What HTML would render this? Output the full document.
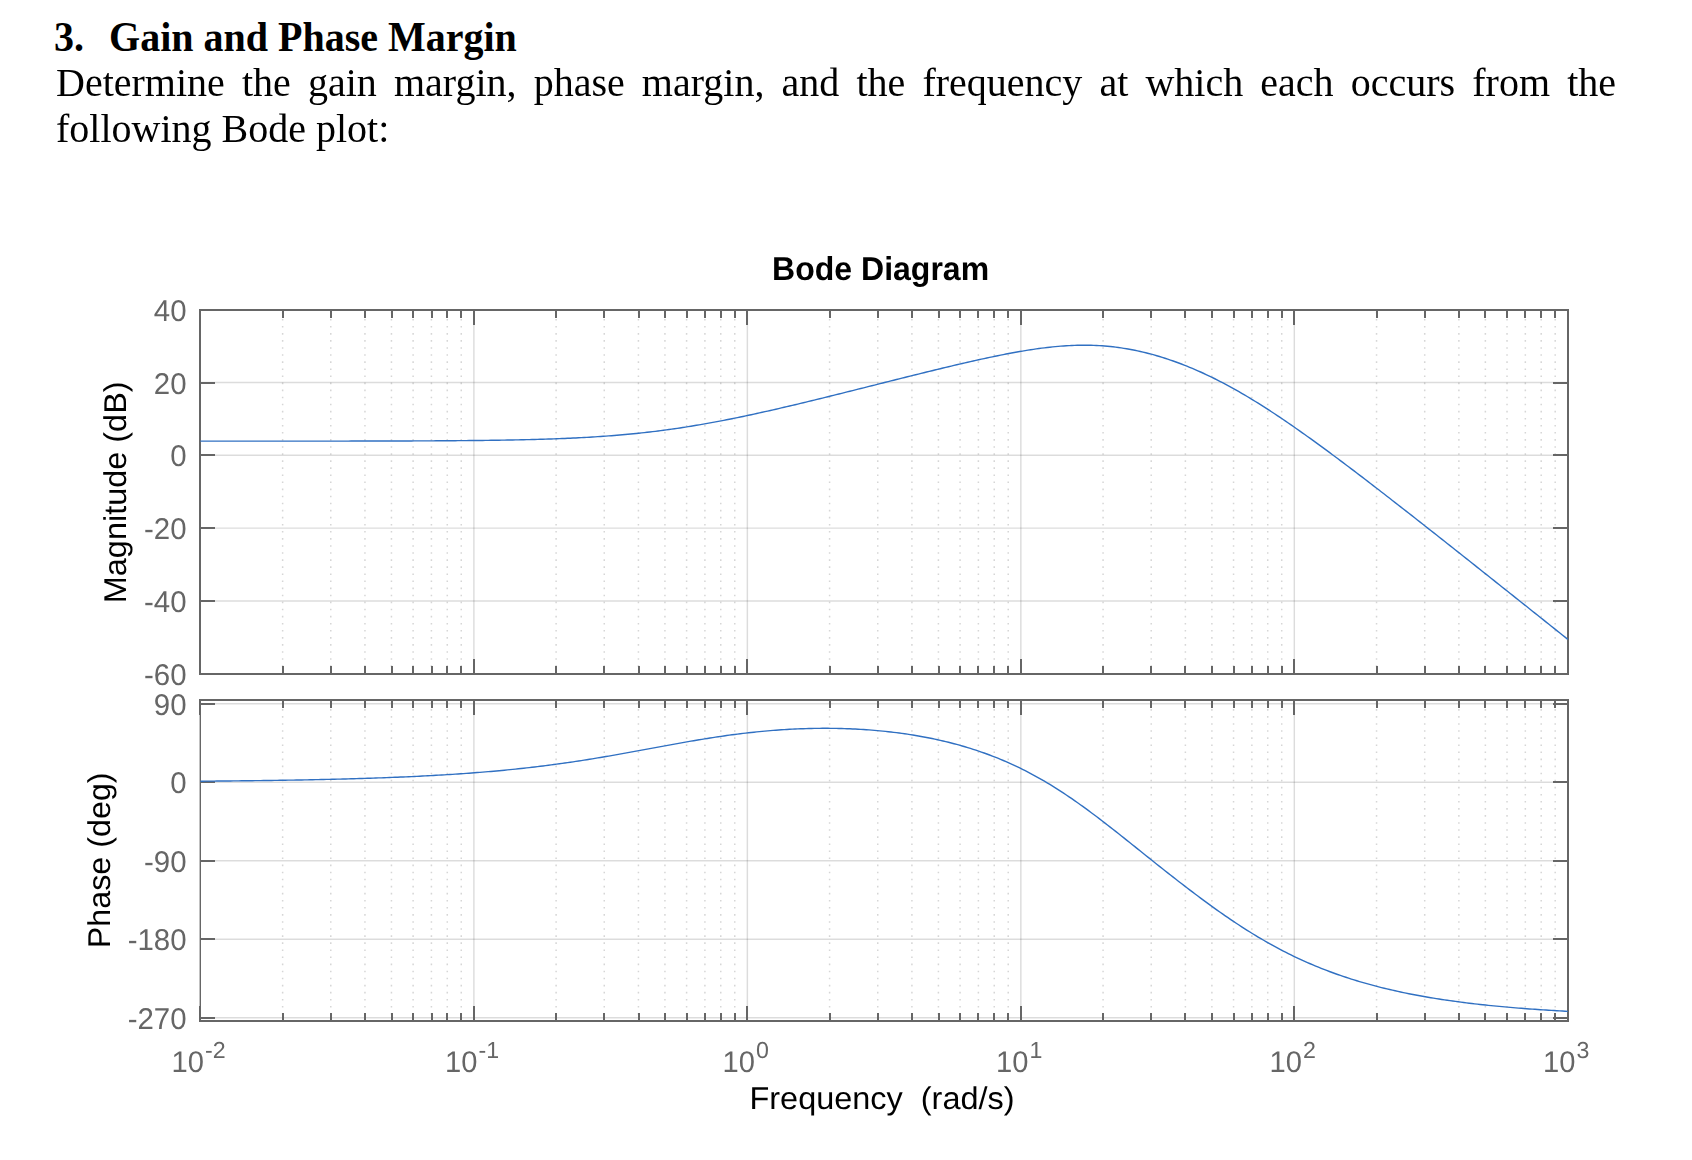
<!DOCTYPE html>
<html lang="en"><head><meta charset="utf-8"><title>Gain and Phase Margin</title>
<style>
html,body{margin:0;padding:0;background:#fff;}
body{width:1692px;height:1160px;position:relative;overflow:hidden;font-family:"Liberation Serif","Times New Roman",serif;color:#000;}
.h{position:absolute;left:54.2px;top:13.5px;font-size:41.8px;font-weight:bold;line-height:46px;white-space:pre;margin:0;transform:scaleX(0.957);transform-origin:0 0;}
.h .n{display:inline-block;width:57.5px;}
.p{position:absolute;left:56px;top:0;width:1591.19px;font-size:40.8px;line-height:46px;margin:0;transform:scaleX(0.9804);transform-origin:0 0;}
.p span{position:absolute;left:0;display:block;white-space:nowrap;}
.p .a{top:59.5px;width:100%;text-align:justify;text-align-last:justify;}
.p .b{top:105.5px;}
</style></head><body>
<h1 class="h"><span class="n">3.</span>Gain and Phase Margin</h1>
<p class="p"><span class="a">Determine the gain margin, phase margin, and the frequency at which each occurs from the </span><span class="b">following Bode plot:</span></p>
<svg width="1692" height="1160" viewBox="0 0 1692 1160" style="position:absolute;left:0;top:0">
<g font-family="'Liberation Sans', Arial, Helvetica, sans-serif" text-rendering="geometricPrecision">
<g stroke="#d6d6d6" stroke-width="1.5" stroke-dasharray="1.6 5.47" fill="none">
<path d="M282.63 311.83V673M330.78 311.83V673M364.95 311.83V673M391.45 311.83V673M413.11 311.83V673M431.42 311.83V673M447.28 311.83V673M461.27 311.83V673M556.11 311.83V673M604.26 311.83V673M638.43 311.83V673M664.93 311.83V673M686.59 311.83V673M704.9 311.83V673M720.76 311.83V673M734.75 311.83V673M829.59 311.83V673M877.74 311.83V673M911.91 311.83V673M938.41 311.83V673M960.07 311.83V673M978.38 311.83V673M994.24 311.83V673M1008.23 311.83V673M1103.07 311.83V673M1151.22 311.83V673M1185.39 311.83V673M1211.89 311.83V673M1233.55 311.83V673M1251.86 311.83V673M1267.72 311.83V673M1281.71 311.83V673M1376.55 311.83V673M1424.7 311.83V673M1458.87 311.83V673M1485.37 311.83V673M1507.03 311.83V673M1525.34 311.83V673M1541.2 311.83V673M1555.19 311.83V673"/>
</g>
<g stroke="#262626" stroke-opacity="0.16" stroke-width="1.45" fill="none">
<path d="M473.88 310V674M747.36 310V674M1020.84 310V674M1294.32 310V674"/>
<path d="M200 382.5H1568M200 455.3H1568M200 528.1H1568M200 600.9H1568"/>
</g>
<g stroke="#d6d6d6" stroke-width="1.5" stroke-dasharray="1.6 5.47" fill="none">
<path d="M282.63 701.98V1020M330.78 701.98V1020M364.95 701.98V1020M391.45 701.98V1020M413.11 701.98V1020M431.42 701.98V1020M447.28 701.98V1020M461.27 701.98V1020M556.11 701.98V1020M604.26 701.98V1020M638.43 701.98V1020M664.93 701.98V1020M686.59 701.98V1020M704.9 701.98V1020M720.76 701.98V1020M734.75 701.98V1020M829.59 701.98V1020M877.74 701.98V1020M911.91 701.98V1020M938.41 701.98V1020M960.07 701.98V1020M978.38 701.98V1020M994.24 701.98V1020M1008.23 701.98V1020M1103.07 701.98V1020M1151.22 701.98V1020M1185.39 701.98V1020M1211.89 701.98V1020M1233.55 701.98V1020M1251.86 701.98V1020M1267.72 701.98V1020M1281.71 701.98V1020M1376.55 701.98V1020M1424.7 701.98V1020M1458.87 701.98V1020M1485.37 701.98V1020M1507.03 701.98V1020M1525.34 701.98V1020M1541.2 701.98V1020M1555.19 701.98V1020"/>
</g>
<g stroke="#262626" stroke-opacity="0.16" stroke-width="1.45" fill="none">
<path d="M473.88 700V1021M747.36 700V1021M1020.84 700V1021M1294.32 700V1021"/>
<path d="M200 703.7H1568M200 782.2H1568M200 860.7H1568M200 939.2H1568M200 1017.69H1568"/>
</g>
<g stroke="#666666" stroke-width="2" fill="none">
<path d="M283 310v8M283 674v-8M331 310v8M331 674v-8M365 310v8M365 674v-8M392 310v8M392 674v-8M413 310v8M413 674v-8M432 310v8M432 674v-8M447 310v8M447 674v-8M461 310v8M461 674v-8M556 310v8M556 674v-8M604 310v8M604 674v-8M639 310v8M639 674v-8M665 310v8M665 674v-8M687 310v8M687 674v-8M705 310v8M705 674v-8M721 310v8M721 674v-8M735 310v8M735 674v-8M830 310v8M830 674v-8M878 310v8M878 674v-8M912 310v8M912 674v-8M939 310v8M939 674v-8M960 310v8M960 674v-8M978 310v8M978 674v-8M994 310v8M994 674v-8M1008 310v8M1008 674v-8M1103 310v8M1103 674v-8M1151 310v8M1151 674v-8M1185 310v8M1185 674v-8M1212 310v8M1212 674v-8M1234 310v8M1234 674v-8M1252 310v8M1252 674v-8M1268 310v8M1268 674v-8M1282 310v8M1282 674v-8M1377 310v8M1377 674v-8M1425 310v8M1425 674v-8M1459 310v8M1459 674v-8M1485 310v8M1485 674v-8M1507 310v8M1507 674v-8M1525 310v8M1525 674v-8M1541 310v8M1541 674v-8M1555 310v8M1555 674v-8M474 310v15M474 674v-15M747 310v15M747 674v-15M1021 310v15M1021 674v-15M1294 310v15M1294 674v-15M200 310v15M200 674v-15M200 383h15M1568 383h-15M200 455h15M1568 455h-15M200 528h15M1568 528h-15M200 601h15M1568 601h-15"/>
</g>
<rect x="200" y="310" width="1368" height="364" fill="none" stroke="#666666" stroke-width="2"/>
<g stroke="#666666" stroke-width="2" fill="none">
<path d="M283 700v8M283 1021v-8M331 700v8M331 1021v-8M365 700v8M365 1021v-8M392 700v8M392 1021v-8M413 700v8M413 1021v-8M432 700v8M432 1021v-8M447 700v8M447 1021v-8M461 700v8M461 1021v-8M556 700v8M556 1021v-8M604 700v8M604 1021v-8M639 700v8M639 1021v-8M665 700v8M665 1021v-8M687 700v8M687 1021v-8M705 700v8M705 1021v-8M721 700v8M721 1021v-8M735 700v8M735 1021v-8M830 700v8M830 1021v-8M878 700v8M878 1021v-8M912 700v8M912 1021v-8M939 700v8M939 1021v-8M960 700v8M960 1021v-8M978 700v8M978 1021v-8M994 700v8M994 1021v-8M1008 700v8M1008 1021v-8M1103 700v8M1103 1021v-8M1151 700v8M1151 1021v-8M1185 700v8M1185 1021v-8M1212 700v8M1212 1021v-8M1234 700v8M1234 1021v-8M1252 700v8M1252 1021v-8M1268 700v8M1268 1021v-8M1282 700v8M1282 1021v-8M1377 700v8M1377 1021v-8M1425 700v8M1425 1021v-8M1459 700v8M1459 1021v-8M1485 700v8M1485 1021v-8M1507 700v8M1507 1021v-8M1525 700v8M1525 1021v-8M1541 700v8M1541 1021v-8M1555 700v8M1555 1021v-8M474 700v15M474 1021v-15M747 700v15M747 1021v-15M1021 700v15M1021 1021v-15M1294 700v15M1294 1021v-15M200 700v15M200 1021v-15M200 704h15M1568 704h-15M200 782h15M1568 782h-15M200 861h15M1568 861h-15M200 939h15M1568 939h-15M200 1018h15M1568 1018h-15"/>
</g>
<path d="M199 700H1569M199 1021H1569M1568 700V1021" fill="none" stroke="#666666" stroke-width="2"/>
<path d="M200.3 700V1021" fill="none" stroke="#666666" stroke-width="1.4"/>
<g fill="none" stroke="#3070c2" stroke-width="1.4" stroke-linejoin="round">
<polyline points="200.4,441.15 203.14,441.15 205.88,441.15 208.62,441.15 211.36,441.15 214.1,441.15 216.84,441.15 219.58,441.15 222.32,441.15 225.06,441.15 227.8,441.15 230.54,441.15 233.28,441.14 236.02,441.14 238.76,441.14 241.5,441.14 244.24,441.14 246.98,441.14 249.73,441.14 252.47,441.14 255.21,441.14 257.95,441.14 260.69,441.14 263.43,441.14 266.17,441.14 268.91,441.14 271.65,441.13 274.39,441.13 277.13,441.13 279.87,441.13 282.61,441.13 285.35,441.13 288.09,441.13 290.83,441.13 293.57,441.13 296.31,441.12 299.05,441.12 301.79,441.12 304.53,441.12 307.27,441.12 310.01,441.12 312.75,441.11 315.49,441.11 318.23,441.11 320.97,441.11 323.71,441.1 326.45,441.1 329.19,441.1 331.93,441.1 334.67,441.09 337.41,441.09 340.15,441.09 342.89,441.09 345.63,441.08 348.38,441.08 351.12,441.07 353.86,441.07 356.6,441.07 359.34,441.06 362.08,441.06 364.82,441.05 367.56,441.05 370.3,441.04 373.04,441.04 375.78,441.03 378.52,441.03 381.26,441.02 384,441.02 386.74,441.01 389.48,441 392.22,440.99 394.96,440.99 397.7,440.98 400.44,440.97 403.18,440.96 405.92,440.95 408.66,440.94 411.4,440.93 414.14,440.92 416.88,440.91 419.62,440.9 422.36,440.89 425.1,440.88 427.84,440.86 430.58,440.85 433.32,440.83 436.06,440.82 438.8,440.8 441.54,440.79 444.28,440.77 447.03,440.75 449.77,440.73 452.51,440.71 455.25,440.69 457.99,440.67 460.73,440.65 463.47,440.62 466.21,440.6 468.95,440.57 471.69,440.55 474.43,440.52 477.17,440.49 479.91,440.46 482.65,440.43 485.39,440.39 488.13,440.36 490.87,440.32 493.61,440.28 496.35,440.24 499.09,440.2 501.83,440.16 504.57,440.11 507.31,440.06 510.05,440.01 512.79,439.96 515.53,439.91 518.27,439.85 521.01,439.79 523.75,439.73 526.49,439.67 529.23,439.6 531.97,439.53 534.71,439.46 537.45,439.38 540.19,439.3 542.94,439.22 545.68,439.13 548.42,439.05 551.16,438.95 553.9,438.86 556.64,438.75 559.38,438.65 562.12,438.54 564.86,438.43 567.6,438.31 570.34,438.19 573.08,438.06 575.82,437.93 578.56,437.79 581.3,437.65 584.04,437.5 586.78,437.35 589.52,437.19 592.26,437.02 595,436.85 597.74,436.67 600.48,436.49 603.22,436.3 605.96,436.11 608.7,435.9 611.44,435.69 614.18,435.48 616.92,435.25 619.66,435.02 622.4,434.78 625.14,434.54 627.88,434.29 630.62,434.02 633.36,433.76 636.1,433.48 638.84,433.19 641.59,432.9 644.33,432.6 647.07,432.29 649.81,431.98 652.55,431.65 655.29,431.32 658.03,430.97 660.77,430.62 663.51,430.27 666.25,429.9 668.99,429.52 671.73,429.14 674.47,428.75 677.21,428.35 679.95,427.94 682.69,427.52 685.43,427.1 688.17,426.66 690.91,426.22 693.65,425.77 696.39,425.31 699.13,424.85 701.87,424.38 704.61,423.9 707.35,423.41 710.09,422.91 712.83,422.41 715.57,421.9 718.31,421.39 721.05,420.86 723.79,420.33 726.53,419.8 729.27,419.25 732.01,418.71 734.75,418.15 737.49,417.59 740.24,417.02 742.98,416.45 745.72,415.87 748.46,415.29 751.2,414.7 753.94,414.11 756.68,413.51 759.42,412.91 762.16,412.3 764.9,411.69 767.64,411.07 770.38,410.45 773.12,409.83 775.86,409.2 778.6,408.57 781.34,407.93 784.08,407.3 786.82,406.65 789.56,406.01 792.3,405.36 795.04,404.71 797.78,404.06 800.52,403.4 803.26,402.74 806,402.08 808.74,401.42 811.48,400.75 814.22,400.08 816.96,399.41 819.7,398.74 822.44,398.07 825.18,397.39 827.92,396.72 830.66,396.04 833.4,395.36 836.15,394.68 838.89,394 841.63,393.31 844.37,392.63 847.11,391.94 849.85,391.26 852.59,390.57 855.33,389.88 858.07,389.19 860.81,388.51 863.55,387.82 866.29,387.13 869.03,386.44 871.77,385.75 874.51,385.06 877.25,384.37 879.99,383.68 882.73,382.99 885.47,382.3 888.21,381.61 890.95,380.92 893.69,380.23 896.43,379.54 899.17,378.86 901.91,378.17 904.65,377.49 907.39,376.8 910.13,376.12 912.87,375.44 915.61,374.76 918.35,374.08 921.09,373.4 923.83,372.72 926.57,372.05 929.31,371.37 932.05,370.7 934.8,370.04 937.54,369.37 940.28,368.71 943.02,368.04 945.76,367.39 948.5,366.73 951.24,366.08 953.98,365.43 956.72,364.78 959.46,364.14 962.2,363.5 964.94,362.87 967.68,362.24 970.42,361.62 973.16,361 975.9,360.38 978.64,359.77 981.38,359.17 984.12,358.57 986.86,357.98 989.6,357.4 992.34,356.82 995.08,356.25 997.82,355.69 1000.56,355.14 1003.3,354.59 1006.04,354.06 1008.78,353.53 1011.52,353.02 1014.26,352.51 1017,352.02 1019.74,351.54 1022.48,351.07 1025.22,350.61 1027.96,350.17 1030.71,349.74 1033.45,349.33 1036.19,348.93 1038.93,348.55 1041.67,348.18 1044.41,347.84 1047.15,347.51 1049.89,347.2 1052.63,346.91 1055.37,346.64 1058.11,346.39 1060.85,346.16 1063.59,345.95 1066.33,345.77 1069.07,345.62 1071.81,345.48 1074.55,345.38 1077.29,345.29 1080.03,345.24 1082.77,345.21 1085.51,345.21 1088.25,345.24 1090.99,345.3 1093.73,345.38 1096.47,345.5 1099.21,345.64 1101.95,345.82 1104.69,346.02 1107.43,346.26 1110.17,346.52 1112.91,346.82 1115.65,347.15 1118.39,347.51 1121.13,347.89 1123.87,348.32 1126.61,348.77 1129.36,349.25 1132.1,349.76 1134.84,350.3 1137.58,350.87 1140.32,351.48 1143.06,352.11 1145.8,352.77 1148.54,353.47 1151.28,354.19 1154.02,354.94 1156.76,355.72 1159.5,356.53 1162.24,357.37 1164.98,358.23 1167.72,359.13 1170.46,360.05 1173.2,361 1175.94,361.98 1178.68,362.98 1181.42,364.02 1184.16,365.08 1186.9,366.17 1189.64,367.28 1192.38,368.42 1195.12,369.59 1197.86,370.79 1200.6,372.01 1203.34,373.26 1206.08,374.53 1208.82,375.83 1211.56,377.15 1214.3,378.5 1217.04,379.88 1219.78,381.27 1222.52,382.7 1225.26,384.14 1228.01,385.61 1230.75,387.1 1233.49,388.62 1236.23,390.16 1238.97,391.72 1241.71,393.3 1244.45,394.9 1247.19,396.52 1249.93,398.17 1252.67,399.83 1255.41,401.51 1258.15,403.21 1260.89,404.93 1263.63,406.66 1266.37,408.42 1269.11,410.19 1271.85,411.97 1274.59,413.78 1277.33,415.59 1280.07,417.42 1282.81,419.27 1285.55,421.13 1288.29,423 1291.03,424.89 1293.77,426.79 1296.51,428.7 1299.25,430.62 1301.99,432.56 1304.73,434.5 1307.47,436.46 1310.21,438.42 1312.95,440.39 1315.69,442.38 1318.43,444.37 1321.17,446.37 1323.92,448.38 1326.66,450.39 1329.4,452.42 1332.14,454.45 1334.88,456.49 1337.62,458.53 1340.36,460.58 1343.1,462.64 1345.84,464.7 1348.58,466.77 1351.32,468.84 1354.06,470.92 1356.8,473 1359.54,475.09 1362.28,477.18 1365.02,479.28 1367.76,481.38 1370.5,483.49 1373.24,485.59 1375.98,487.71 1378.72,489.82 1381.46,491.94 1384.2,494.06 1386.94,496.19 1389.68,498.31 1392.42,500.44 1395.16,502.58 1397.9,504.71 1400.64,506.85 1403.38,508.99 1406.12,511.13 1408.86,513.28 1411.6,515.42 1414.34,517.57 1417.08,519.72 1419.82,521.87 1422.57,524.03 1425.31,526.18 1428.05,528.34 1430.79,530.49 1433.53,532.65 1436.27,534.81 1439.01,536.98 1441.75,539.14 1444.49,541.3 1447.23,543.47 1449.97,545.63 1452.71,547.8 1455.45,549.97 1458.19,552.14 1460.93,554.31 1463.67,556.48 1466.41,558.65 1469.15,560.82 1471.89,563 1474.63,565.17 1477.37,567.34 1480.11,569.52 1482.85,571.7 1485.59,573.87 1488.33,576.05 1491.07,578.23 1493.81,580.4 1496.55,582.58 1499.29,584.76 1502.03,586.94 1504.77,589.12 1507.51,591.3 1510.25,593.48 1512.99,595.66 1515.73,597.84 1518.47,600.02 1521.22,602.2 1523.96,604.39 1526.7,606.57 1529.44,608.75 1532.18,610.93 1534.92,613.12 1537.66,615.3 1540.4,617.48 1543.14,619.67 1545.88,621.85 1548.62,624.04 1551.36,626.22 1554.1,628.4 1556.84,630.59 1559.58,632.77 1562.32,634.96 1565.06,637.14 1567.8,639.33"/>
<polyline points="200.4,781.2 203.14,781.18 205.88,781.16 208.62,781.14 211.36,781.11 214.1,781.09 216.84,781.06 219.58,781.04 222.32,781.01 225.06,780.99 227.8,780.96 230.54,780.93 233.28,780.9 236.02,780.87 238.76,780.84 241.5,780.81 244.24,780.78 246.98,780.75 249.73,780.72 252.47,780.68 255.21,780.65 257.95,780.61 260.69,780.58 263.43,780.54 266.17,780.5 268.91,780.47 271.65,780.43 274.39,780.39 277.13,780.35 279.87,780.3 282.61,780.26 285.35,780.22 288.09,780.17 290.83,780.13 293.57,780.08 296.31,780.03 299.05,779.98 301.79,779.93 304.53,779.88 307.27,779.83 310.01,779.77 312.75,779.72 315.49,779.66 318.23,779.6 320.97,779.54 323.71,779.48 326.45,779.42 329.19,779.36 331.93,779.29 334.67,779.22 337.41,779.16 340.15,779.09 342.89,779.01 345.63,778.94 348.38,778.87 351.12,778.79 353.86,778.71 356.6,778.63 359.34,778.55 362.08,778.47 364.82,778.38 367.56,778.29 370.3,778.2 373.04,778.11 375.78,778.02 378.52,777.92 381.26,777.83 384,777.72 386.74,777.62 389.48,777.52 392.22,777.41 394.96,777.3 397.7,777.19 400.44,777.07 403.18,776.96 405.92,776.84 408.66,776.71 411.4,776.59 414.14,776.46 416.88,776.33 419.62,776.19 422.36,776.06 425.1,775.91 427.84,775.77 430.58,775.62 433.32,775.47 436.06,775.32 438.8,775.16 441.54,775 444.28,774.84 447.03,774.67 449.77,774.5 452.51,774.33 455.25,774.15 457.99,773.96 460.73,773.78 463.47,773.59 466.21,773.39 468.95,773.19 471.69,772.99 474.43,772.78 477.17,772.57 479.91,772.35 482.65,772.13 485.39,771.9 488.13,771.67 490.87,771.44 493.61,771.2 496.35,770.95 499.09,770.7 501.83,770.45 504.57,770.18 507.31,769.92 510.05,769.65 512.79,769.37 515.53,769.09 518.27,768.8 521.01,768.51 523.75,768.21 526.49,767.9 529.23,767.59 531.97,767.28 534.71,766.96 537.45,766.63 540.19,766.29 542.94,765.96 545.68,765.61 548.42,765.26 551.16,764.9 553.9,764.54 556.64,764.17 559.38,763.79 562.12,763.41 564.86,763.02 567.6,762.63 570.34,762.23 573.08,761.83 575.82,761.42 578.56,761 581.3,760.58 584.04,760.15 586.78,759.72 589.52,759.28 592.26,758.84 595,758.39 597.74,757.93 600.48,757.48 603.22,757.01 605.96,756.54 608.7,756.07 611.44,755.6 614.18,755.11 616.92,754.63 619.66,754.14 622.4,753.65 625.14,753.16 627.88,752.66 630.62,752.16 633.36,751.66 636.1,751.16 638.84,750.65 641.59,750.15 644.33,749.64 647.07,749.13 649.81,748.62 652.55,748.11 655.29,747.6 658.03,747.1 660.77,746.59 663.51,746.08 666.25,745.58 668.99,745.08 671.73,744.58 674.47,744.08 677.21,743.58 679.95,743.09 682.69,742.61 685.43,742.12 688.17,741.64 690.91,741.17 693.65,740.7 696.39,740.24 699.13,739.78 701.87,739.32 704.61,738.88 707.35,738.44 710.09,738 712.83,737.58 715.57,737.16 718.31,736.75 721.05,736.34 723.79,735.95 726.53,735.56 729.27,735.18 732.01,734.81 734.75,734.45 737.49,734.1 740.24,733.75 742.98,733.42 745.72,733.09 748.46,732.78 751.2,732.47 753.94,732.18 756.68,731.89 759.42,731.62 762.16,731.35 764.9,731.1 767.64,730.86 770.38,730.62 773.12,730.4 775.86,730.19 778.6,729.99 781.34,729.8 784.08,729.62 786.82,729.45 789.56,729.3 792.3,729.15 795.04,729.02 797.78,728.89 800.52,728.78 803.26,728.68 806,728.59 808.74,728.52 811.48,728.45 814.22,728.4 816.96,728.36 819.7,728.33 822.44,728.31 825.18,728.31 827.92,728.31 830.66,728.33 833.4,728.36 836.15,728.4 838.89,728.46 841.63,728.53 844.37,728.61 847.11,728.7 849.85,728.81 852.59,728.93 855.33,729.06 858.07,729.2 860.81,729.36 863.55,729.53 866.29,729.71 869.03,729.91 871.77,730.12 874.51,730.35 877.25,730.59 879.99,730.84 882.73,731.11 885.47,731.39 888.21,731.68 890.95,731.99 893.69,732.32 896.43,732.66 899.17,733.02 901.91,733.39 904.65,733.77 907.39,734.18 910.13,734.6 912.87,735.03 915.61,735.48 918.35,735.95 921.09,736.44 923.83,736.94 926.57,737.46 929.31,738 932.05,738.56 934.8,739.13 937.54,739.73 940.28,740.34 943.02,740.97 945.76,741.62 948.5,742.29 951.24,742.99 953.98,743.7 956.72,744.43 959.46,745.19 962.2,745.97 964.94,746.77 967.68,747.59 970.42,748.43 973.16,749.3 975.9,750.19 978.64,751.11 981.38,752.05 984.12,753.01 986.86,754 989.6,755.02 992.34,756.06 995.08,757.12 997.82,758.22 1000.56,759.34 1003.3,760.49 1006.04,761.66 1008.78,762.87 1011.52,764.1 1014.26,765.36 1017,766.65 1019.74,767.97 1022.48,769.32 1025.22,770.7 1027.96,772.11 1030.71,773.55 1033.45,775.02 1036.19,776.52 1038.93,778.05 1041.67,779.61 1044.41,781.2 1047.15,782.82 1049.89,784.47 1052.63,786.14 1055.37,787.85 1058.11,789.59 1060.85,791.35 1063.59,793.14 1066.33,794.96 1069.07,796.81 1071.81,798.68 1074.55,800.58 1077.29,802.5 1080.03,804.45 1082.77,806.42 1085.51,808.4 1088.25,810.41 1090.99,812.44 1093.73,814.49 1096.47,816.56 1099.21,818.64 1101.95,820.74 1104.69,822.85 1107.43,824.97 1110.17,827.11 1112.91,829.25 1115.65,831.41 1118.39,833.57 1121.13,835.74 1123.87,837.92 1126.61,840.1 1129.36,842.29 1132.1,844.47 1134.84,846.67 1137.58,848.86 1140.32,851.05 1143.06,853.25 1145.8,855.44 1148.54,857.63 1151.28,859.82 1154.02,862 1156.76,864.18 1159.5,866.36 1162.24,868.53 1164.98,870.7 1167.72,872.86 1170.46,875.01 1173.2,877.16 1175.94,879.3 1178.68,881.43 1181.42,883.55 1184.16,885.66 1186.9,887.76 1189.64,889.85 1192.38,891.93 1195.12,894 1197.86,896.06 1200.6,898.1 1203.34,900.13 1206.08,902.15 1208.82,904.15 1211.56,906.13 1214.3,908.1 1217.04,910.06 1219.78,912 1222.52,913.91 1225.26,915.82 1228.01,917.7 1230.75,919.56 1233.49,921.4 1236.23,923.23 1238.97,925.03 1241.71,926.81 1244.45,928.57 1247.19,930.31 1249.93,932.02 1252.67,933.72 1255.41,935.39 1258.15,937.03 1260.89,938.66 1263.63,940.26 1266.37,941.83 1269.11,943.38 1271.85,944.91 1274.59,946.42 1277.33,947.89 1280.07,949.35 1282.81,950.78 1285.55,952.19 1288.29,953.57 1291.03,954.93 1293.77,956.26 1296.51,957.57 1299.25,958.85 1301.99,960.12 1304.73,961.35 1307.47,962.57 1310.21,963.76 1312.95,964.93 1315.69,966.08 1318.43,967.2 1321.17,968.3 1323.92,969.38 1326.66,970.44 1329.4,971.48 1332.14,972.5 1334.88,973.49 1337.62,974.47 1340.36,975.42 1343.1,976.36 1345.84,977.28 1348.58,978.17 1351.32,979.05 1354.06,979.91 1356.8,980.75 1359.54,981.57 1362.28,982.38 1365.02,983.17 1367.76,983.94 1370.5,984.7 1373.24,985.43 1375.98,986.16 1378.72,986.86 1381.46,987.56 1384.2,988.23 1386.94,988.9 1389.68,989.54 1392.42,990.18 1395.16,990.8 1397.9,991.4 1400.64,991.99 1403.38,992.57 1406.12,993.14 1408.86,993.69 1411.6,994.23 1414.34,994.76 1417.08,995.28 1419.82,995.79 1422.57,996.28 1425.31,996.77 1428.05,997.24 1430.79,997.7 1433.53,998.15 1436.27,998.6 1439.01,999.03 1441.75,999.45 1444.49,999.86 1447.23,1000.27 1449.97,1000.66 1452.71,1001.05 1455.45,1001.42 1458.19,1001.79 1460.93,1002.15 1463.67,1002.51 1466.41,1002.85 1469.15,1003.19 1471.89,1003.51 1474.63,1003.84 1477.37,1004.15 1480.11,1004.46 1482.85,1004.76 1485.59,1005.05 1488.33,1005.34 1491.07,1005.62 1493.81,1005.89 1496.55,1006.16 1499.29,1006.42 1502.03,1006.67 1504.77,1006.92 1507.51,1007.17 1510.25,1007.41 1512.99,1007.64 1515.73,1007.87 1518.47,1008.09 1521.22,1008.31 1523.96,1008.52 1526.7,1008.73 1529.44,1008.93 1532.18,1009.13 1534.92,1009.32 1537.66,1009.51 1540.4,1009.7 1543.14,1009.88 1545.88,1010.06 1548.62,1010.23 1551.36,1010.4 1554.1,1010.56 1556.84,1010.73 1559.58,1010.88 1562.32,1011.04 1565.06,1011.19 1567.8,1011.34"/>
</g>
<g fill="#666666" font-size="30" text-anchor="end">
<text transform="translate(186.5 320.8) scale(0.98 1)">40</text>
<text transform="translate(186.5 393.6) scale(0.98 1)">20</text>
<text transform="translate(186.5 466.4) scale(0.98 1)">0</text>
<text transform="translate(186.5 539.2) scale(0.98 1)">-20</text>
<text transform="translate(186.5 612) scale(0.98 1)">-40</text>
<text transform="translate(186.5 684.8) scale(0.98 1)">-60</text>
<text transform="translate(186.5 714.8) scale(0.98 1)">90</text>
<text transform="translate(186.5 793.3) scale(0.98 1)">0</text>
<text transform="translate(186.5 871.8) scale(0.98 1)">-90</text>
<text transform="translate(186.5 950.3) scale(0.98 1)">-180</text>
<text transform="translate(186.5 1028.79) scale(0.98 1)">-270</text>
<text transform="translate(204 1072.3) scale(0.975 1)" font-size="29.9">10</text>
<text transform="translate(477.48 1072.3) scale(0.975 1)" font-size="29.9">10</text>
<text transform="translate(754.96 1072.3) scale(0.975 1)" font-size="29.9">10</text>
<text transform="translate(1028.44 1072.3) scale(0.975 1)" font-size="29.9">10</text>
<text transform="translate(1301.92 1072.3) scale(0.975 1)" font-size="29.9">10</text>
<text transform="translate(1575.4 1072.3) scale(0.975 1)" font-size="29.9">10</text>
</g>
<g fill="#666666" font-size="23.2">
<text x="205.1" y="1058">-2</text>
<text x="478.58" y="1058">-1</text>
<text x="756.06" y="1058">0</text>
<text x="1029.54" y="1058">1</text>
<text x="1303.02" y="1058">2</text>
<text x="1576.5" y="1058">3</text>
</g>
<text transform="translate(880.6 280) scale(0.97 1)" font-size="33" font-weight="bold" text-anchor="middle" fill="#000">Bode Diagram</text>
<g font-size="31.5" text-anchor="middle" fill="#000">
<text transform="translate(882 1108.7) scale(1.03 1)" xml:space="preserve" style="white-space:pre">Frequency  (rad/s)</text>
<text transform="translate(125.7 492.3) rotate(-90) scale(1.03 1)">Magnitude (dB)</text>
<text transform="translate(109.8 860.3) rotate(-90) scale(1.024 1)">Phase (deg)</text>
</g>
</g></svg>
</body></html>
